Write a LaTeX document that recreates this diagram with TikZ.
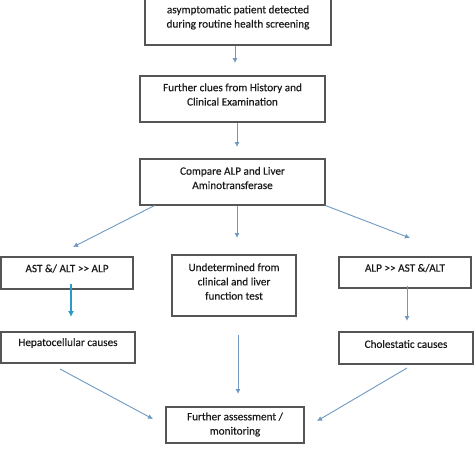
\documentclass[tikz,border=0pt]{standalone}
\usepackage{fontspec}
\setmainfont{Carlito}[BoldFont=Carlito, BoldFeatures={FakeBold=0.35}]
\usetikzlibrary{arrows.meta,fit}
\definecolor{boxline}{HTML}{555555}
\definecolor{arrowblue}{HTML}{7099C2}
\definecolor{brightblue}{HTML}{2A9BC8}
\definecolor{txtcol}{HTML}{1A1A1A}
\tikzset{
  flowbox/.style={draw=boxline, line width=1.1pt, rectangle, inner sep=0pt},
  flowtxt/.style={text=txtcol, font=\fontsize{11.2}{14.3}\selectfont\bfseries, align=center, inner sep=0pt},
  arr/.style={draw=arrowblue, line width=0.9pt, -{Latex[length=5pt,width=5pt]}},
  arrthick/.style={draw=brightblue, line width=1.8pt, -{Latex[length=6pt,width=6pt]}},
}
\newcommand\flowboxdraw[7]{%
  \node[flowbox, fit={(#2,#3) (#4,#5)}] (#1) {};
  \node[flowtxt] (#1-t) at ({(#2+#4)/2},#6) {#7};
}
\begin{document}
\begin{tikzpicture}[x=1pt,y=-1pt]
\useasboundingbox (0,0) rectangle (474,474);
\clip (0,0) rectangle (474,474);
\fill[white] (0,0) rectangle (474,474);
\flowboxdraw{top}{145}{-20}{331}{45}{17.5}{asymptomatic patient detected\\during routine health screening}
\flowboxdraw{clues}{140}{76}{325}{122}{94.5}{Further clues from History and\\Clinical Examination}
\flowboxdraw{compare}{140}{159}{325}{205}{178}{Compare ALP and Liver\\Aminotransferase}
\flowboxdraw{ast}{1}{257}{133}{289}{268.5}{AST \&/ ALT >{}> ALP}
\flowboxdraw{und}{172}{255}{296}{316}{281.5}{Undetermined from\\clinical and liver\\function test}
\flowboxdraw{alp}{339}{257}{471}{288}{268}{ALP >{}> AST \&/ALT}
\flowboxdraw{hep}{1}{332}{135}{363}{343}{Hepatocellular causes}
\flowboxdraw{chol}{339}{332}{473}{364}{344}{Cholestatic causes}
\flowboxdraw{fur}{166}{407}{304}{443}{424.5}{Further assessment /\\monitoring}
% arrow tips
\coordinate (t1) at (235,63);
\coordinate (t2) at (237,147);
\coordinate (t3) at (73,247);
\coordinate (t4) at (237,238);
\coordinate (t5) at (410,238);
\coordinate (t6) at (71,317);
\coordinate (t7) at (407,321);
\coordinate (t8) at (238,394);
\coordinate (t9) at (153,419);
\coordinate (t10) at (317,421);
\coordinate (s8) at (238,335);
\coordinate (s9) at (60,369);
\coordinate (s10) at (407,368);
\draw[arr] (top.south -| t1) -- (t1);
\draw[arr] (clues.south -| t2) -- (t2);
\draw[arr] ([xshift=15pt]compare.south west) -- (t3);
\draw[arr] (compare.south -| t4) -- (t4);
\draw[arr] (compare.south east) -- (t5);
\draw[arrthick] ([yshift=6pt]ast.south -| t6) -- (t6);
\draw[arr] ([yshift=3pt]alp.south -| t7) -- (t7);
\draw[arr] (s8) -- (t8);
\draw[arr] (s9) -- (t9);
\draw[arr] (s10) -- (t10);
\end{tikzpicture}
\end{document}
